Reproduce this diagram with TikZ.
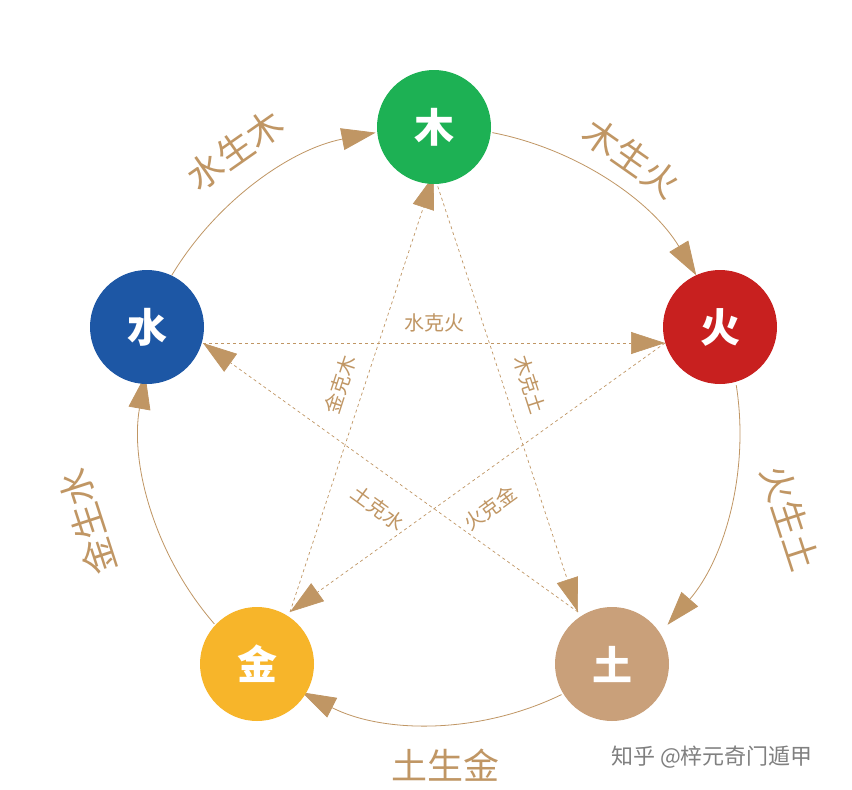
\documentclass[tikz,border=0pt]{standalone}
\usepackage{fontspec}
\newfontfamily\cjk{Noto Sans CJK SC}
\usetikzlibrary{arrows.meta}
\definecolor{tan}{RGB}{192,150,100}
\definecolor{mu}{RGB}{29,177,84}
\definecolor{huo}{RGB}{200,32,31}
\definecolor{tu}{RGB}{201,160,122}
\definecolor{jin}{RGB}{247,181,42}
\definecolor{shui}{RGB}{29,87,165}
\begin{document}
\begin{tikzpicture}[x=1pt,y=1pt,
  el/.style={circle,minimum size=114pt,inner sep=0pt,text=white,font=\cjk\fontsize{40}{40}\selectfont\bfseries},
  arcline/.style={draw=tan,line width=0.8pt,-{Triangle[length=34pt,width=22pt]},fill=none},
  star/.style={draw=tan,dashed,line width=0.7pt,-{Triangle[length=34pt,width=22pt]}},
  sheng/.style={text=tan,font=\cjk\fontsize{36}{36}\selectfont},
  ke/.style={text=tan,font=\cjk\fontsize{20}{20}\selectfont}]
\useasboundingbox (0,0) rectangle (852,-790);
\fill[white] (0,0) rectangle (852,-790);
\coordinate (C) at (434,-433);
% star vertices
\coordinate (vmu) at (434,-175);
\coordinate (vhuo) at (665,-343);
\coordinate (vtu) at (578,-612);
\coordinate (vjin) at (290,-612);
\coordinate (vshui) at (203,-343);
\draw[star] (vshui) -- (vhuo);
\draw[star] (vhuo) -- (vjin);
\draw[star] (vjin) -- (vmu);
\draw[star] (vmu) -- (vtu);
\draw[star] (vtu) -- (vshui);
% arcs
\draw[arcline] ([shift={(C)}]149:306) arc[start angle=149,end angle=101,radius=306];
\draw[arcline] ([shift={(C)}]79:306) arc[start angle=79,end angle=31,radius=306];
\draw[arcline] ([shift={(C)}]9:306) arc[start angle=9,end angle=-41,radius=295];
\draw[arcline] ([shift={(C)}]-64:291) arc[start angle=-64,end angle=-117,radius=291];
\draw[arcline] ([shift={(C)}]-139:291) arc[start angle=-139,end angle=-190,radius=300];
% nodes
\node[el,fill=mu] (mu) at (434,-127) {木};
\node[el,fill=huo] (huo) at (720,-327) {火};
\node[el,fill=tu] (tu) at (612,-664) {土};
\node[el,fill=jin] (jin) at (257,-664) {金};
\node[el,fill=shui] (shui) at (147,-327) {水};
% labels
\node[sheng,rotate=35] (l1) at (235,-150) {水生木};
\node[sheng,rotate=-35] (l2) at (632,-158) {木生火};
\node[sheng,rotate=-72] (l3) at (790,-518) {火生土};
\node[sheng,rotate=108] (l4) at (88,-522) {金生水};
\node[sheng] (l5) at (445,-765) {土生金};
\node[ke] (k1) at (434,-323) {水克火};
\node[ke,rotate=-72] (k2) at (530,-385) {木克土};
\node[ke,rotate=72] (k3) at (340,-385) {金克木};
\node[ke,rotate=-36] (k4) at (378,-508) {土克水};
\node[ke,rotate=36] (k5) at (490,-508) {火克金};
\node[text=gray,font=\cjk\fontsize{22}{22}\selectfont] (wm) at (712,-757) {知乎 @梓元奇门遁甲};
\end{tikzpicture}
\end{document}
